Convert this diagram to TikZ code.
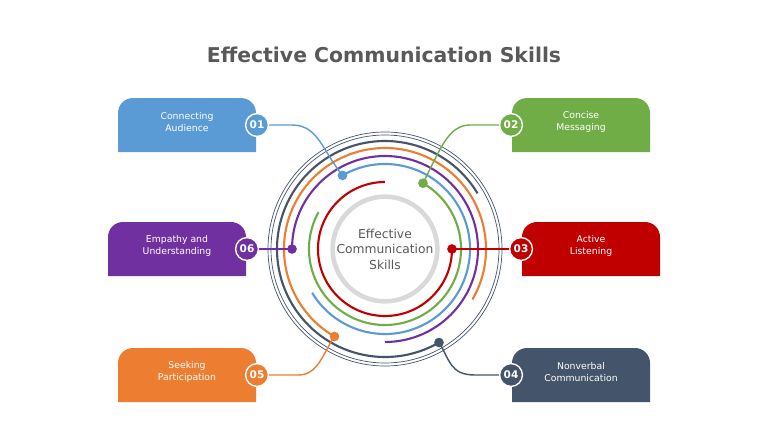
\documentclass[tikz,border=0pt]{standalone}
\usepackage{fontspec}
\setmainfont{DejaVu Sans}
\usetikzlibrary{shadows,calc}
\definecolor{cblue}{HTML}{5B9BD5}
\definecolor{cgreen}{HTML}{70AD47}
\definecolor{cred}{HTML}{C00000}
\definecolor{cpurple}{HTML}{7030A0}
\definecolor{corange}{HTML}{ED7D31}
\definecolor{cnavy}{HTML}{44546A}
\definecolor{ctitle}{HTML}{595959}
\tikzset{
  cardtext/.style={text=white, font=\fontsize{5.3pt}{6.6pt}\selectfont, align=center},
  badge/.style={circle, fill=#1, draw=white, line width=0.8pt, minimum size=13pt, inner sep=0pt, text=white, font=\bfseries\fontsize{6pt}{7pt}\selectfont, path picture={\draw[#1, line width=1.2pt] (path picture bounding box.center) circle[radius=6.5pt];}},
  ring/.style={line width=1.2pt, #1},
  link/.style={line width=0.8pt, #1},
  dot/.style={circle, fill=#1, inner sep=0pt, minimum size=5.5pt},
}
\newcommand{\mycard}[5]{%
  \fill[#5] (#1,#4) -- (#1,#2+15) arc[start angle=180,end angle=270,radius=15] -- (#3-15,#2) arc[start angle=270,end angle=360,radius=15] -- (#3,#4) -- cycle;}
\begin{document}
\begin{tikzpicture}[x=0.02cm,y=-0.02cm]
\useasboundingbox (0,0) rectangle (768,433);
\fill[white] (0,0) rectangle (768,433);
\node[text=ctitle, font=\bfseries\fontsize{11.6pt}{14pt}\selectfont] (title) at (384,55) {Effective Communication Skills};

\coordinate (c) at (385,249);
\draw[cnavy, line width=0.4pt] (c) circle[radius=117];
\draw[cnavy, line width=0.4pt] (c) circle[radius=114];
\draw[ring=cnavy] (c) ++(-31:108) arc[start angle=-31, end angle=-300, radius=108];
\draw[ring=corange] (c) ++(30:101) arc[start angle=30, end angle=-240, radius=101];
\draw[ring=cpurple] (c) ++(-180:93) arc[start angle=-180, end angle=90, radius=93];
\draw[ring=cblue] (c) ++(-120:85) arc[start angle=-120, end angle=149, radius=85];
\draw[ring=cgreen] (c) ++(-60:76) arc[start angle=-60, end angle=209, radius=76];
\draw[ring=cred] (c) ++(0:67) arc[start angle=0, end angle=270, radius=67];
\node[circle, fill=white, draw=black!15, line width=2.6pt, minimum size=1.66cm, drop shadow={opacity=0.25, shadow xshift=0.5pt, shadow yshift=-0.8pt}, inner sep=0pt, text=ctitle, font=\fontsize{7pt}{8.8pt}\selectfont, align=center] (hub) at (c) {Effective\\Communication\\Skills};

% cards
\mycard{118}{98}{256}{152}{cblue}
\mycard{512}{98}{650}{152}{cgreen}
\mycard{522}{222}{660}{276}{cred}
\mycard{108}{222}{246}{276}{cpurple}
\mycard{118}{348}{256}{402}{corange}
\mycard{512}{348}{650}{402}{cnavy}
\node[cardtext] (t1) at (187,122) {Connecting\\Audience};
\node[cardtext] (t2) at (581,122) {Concise\\Messaging};
\node[cardtext] (t3) at (591,246) {Active\\Listening};
\node[cardtext] (t6) at (177,246) {Empathy and\\Understanding};
\node[cardtext] (t5) at (187,372) {Seeking\\Participation};
\node[cardtext] (t4) at (581,372) {Nonverbal\\Communication};

% dots
\node[dot=cblue] (d1) at ($(c)+(-120:85)$) {};
\node[dot=cgreen] (d2) at ($(c)+(-60:76)$) {};
\node[dot=cred] (d3) at ($(c)+(0:67)$) {};
\node[dot=cpurple] (d6) at ($(c)+(180:93)$) {};
\node[dot=corange] (d5) at ($(c)+(-240:101)$) {};
\node[dot=cnavy] (d4) at ($(c)+(-300:108)$) {};

% badges
\node[badge=cblue] (b1) at (257,125) {01};
\node[badge=cgreen] (b2) at (511,125) {02};
\node[badge=cred] (b3) at (521,249) {03};
\node[badge=cpurple] (b6) at (247,249) {06};
\node[badge=corange] (b5) at (257,375) {05};
\node[badge=cnavy] (b4) at (511,375) {04};

% links
\draw[link=cblue] (b1.east) -- (292,125) .. controls (318,125) and (322,150) .. (d1.center);
\draw[link=cgreen] (b2.west) -- (470,125) .. controls (448,125) and (440,150) .. (d2.center);
\draw[link=cred] (b3.west) -- (d3.center);
\draw[link=cpurple] (b6.east) -- (d6.center);
\draw[link=corange] (b5.east) -- (298,375) .. controls (318,375) and (322,355) .. (d5.center);
\draw[link=cnavy] (b4.west) -- (475,375) .. controls (450,375) and (450,360) .. (d4.center);
\end{tikzpicture}
\end{document}
